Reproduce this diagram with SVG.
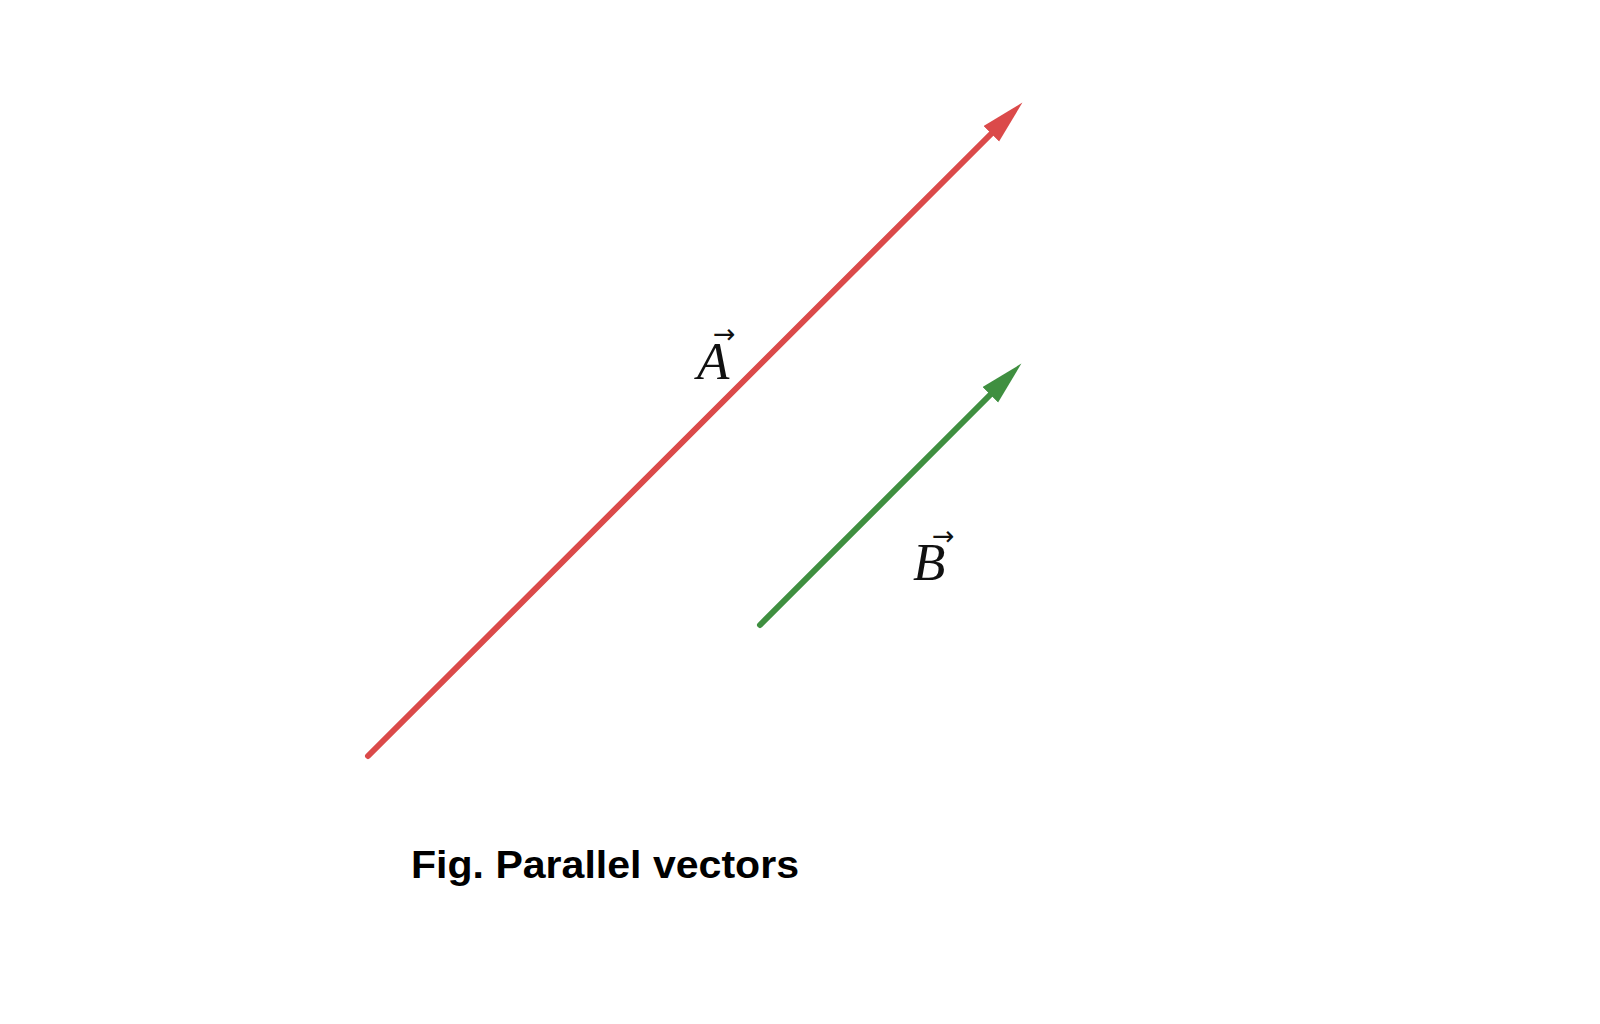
<svg xmlns="http://www.w3.org/2000/svg" width="1600" height="1024" viewBox="0 0 1600 1024">
  <style>
    .vec { fill: none; stroke-width: 6; stroke-linecap: round; }
    .math { font-family: "Liberation Serif", "DejaVu Serif", serif; font-style: italic; font-size: 53px; fill: #111; }
    .acc { font-family: "DejaVu Sans", "Liberation Serif", sans-serif; font-size: 27px; fill: #111; }
    .cap { font-family: "Liberation Sans", Arial, sans-serif; font-weight: bold; font-size: 39px; fill: #000; }
  </style>
  <defs>
    <marker id="headRed" markerUnits="userSpaceOnUse" markerWidth="46" markerHeight="24" refX="1" refY="11" orient="auto">
      <path d="M0,0 L44,11 L0,22 z" fill="#db4a4a"/>
    </marker>
    <marker id="headGreen" markerUnits="userSpaceOnUse" markerWidth="46" markerHeight="24" refX="1" refY="11" orient="auto">
      <path d="M0,0 L44,11 L0,22 z" fill="#3f8f40"/>
    </marker>
  </defs>
  <rect width="1600" height="1024" fill="#ffffff"/>
  <g id="connectors">
    <line id="vecA" class="vec" x1="368" y1="756" x2="992" y2="133" stroke="#db4a4a" marker-end="url(#headRed)"/>
    <line id="vecB" class="vec" x1="760" y1="625" x2="991" y2="394" stroke="#3f8f40" marker-end="url(#headGreen)"/>
  </g>
  <g id="labelA">
    <text class="math" x="697" y="379">A</text>
    <text class="acc" x="713" y="343">→</text>
  </g>
  <g id="labelB">
    <text class="math" x="913" y="580">B</text>
    <text class="acc" x="932" y="545">→</text>
  </g>
  <g id="caption">
    <text class="cap" x="411" y="878" textLength="388" lengthAdjust="spacingAndGlyphs">Fig. Parallel vectors</text>
  </g>
</svg>
